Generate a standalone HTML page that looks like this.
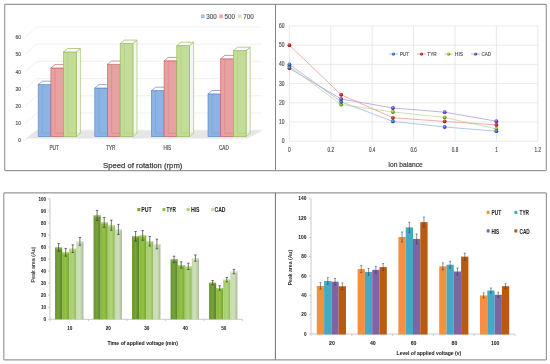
<!DOCTYPE html>
<html><head><meta charset="utf-8"><style>
html,body{margin:0;padding:0;background:#fff;width:550px;height:364px;overflow:hidden}
svg{display:block;font-family:"Liberation Sans", sans-serif;filter:blur(0.3px)}
</style></head><body>
<svg width="550" height="364" viewBox="0 0 550 364">
<defs>
<radialGradient id="gPUT" cx="0.4" cy="0.35" r="0.65"><stop offset="0" stop-color="#7fb0f0"/><stop offset="0.6" stop-color="#2a64b8"/><stop offset="1" stop-color="#1a3f80"/></radialGradient>
<radialGradient id="gTYR" cx="0.4" cy="0.35" r="0.65"><stop offset="0" stop-color="#f07070"/><stop offset="0.6" stop-color="#b81c1c"/><stop offset="1" stop-color="#801010"/></radialGradient>
<radialGradient id="gHIS" cx="0.4" cy="0.35" r="0.65"><stop offset="0" stop-color="#c8ec70"/><stop offset="0.6" stop-color="#74a424"/><stop offset="1" stop-color="#4a7010"/></radialGradient>
<radialGradient id="gCAD" cx="0.4" cy="0.35" r="0.65"><stop offset="0" stop-color="#b898f0"/><stop offset="0.6" stop-color="#603ca8"/><stop offset="1" stop-color="#402470"/></radialGradient>
<linearGradient id="hl0" x1="0" x2="0" y1="0" y2="1"><stop offset="0" stop-color="#a8d060" stop-opacity="0.9"/><stop offset="1" stop-color="#a8d060" stop-opacity="0"/></linearGradient>
<linearGradient id="hl1" x1="0" x2="0" y1="0" y2="1"><stop offset="0" stop-color="#c4e878" stop-opacity="0.9"/><stop offset="1" stop-color="#c4e878" stop-opacity="0"/></linearGradient>
<linearGradient id="hl2" x1="0" x2="0" y1="0" y2="1"><stop offset="0" stop-color="#d4ee9e" stop-opacity="0.9"/><stop offset="1" stop-color="#d4ee9e" stop-opacity="0"/></linearGradient>
<linearGradient id="hl3" x1="0" x2="0" y1="0" y2="1"><stop offset="0" stop-color="#e6f2d8" stop-opacity="0.9"/><stop offset="1" stop-color="#e6f2d8" stop-opacity="0"/></linearGradient>
<linearGradient id="gb1" x1="0" x2="1" y1="0" y2="0"><stop offset="0" stop-color="#6a9530"/><stop offset="0.5" stop-color="#76a33a"/><stop offset="1" stop-color="#5a8228"/></linearGradient>
<linearGradient id="gb2" x1="0" x2="1" y1="0" y2="0"><stop offset="0" stop-color="#85b53a"/><stop offset="0.5" stop-color="#94c443"/><stop offset="1" stop-color="#77a232"/></linearGradient>
<linearGradient id="gb3" x1="0" x2="1" y1="0" y2="0"><stop offset="0" stop-color="#a2c96a"/><stop offset="0.5" stop-color="#b0d57a"/><stop offset="1" stop-color="#92b85e"/></linearGradient>
<linearGradient id="gb4" x1="0" x2="1" y1="0" y2="0"><stop offset="0" stop-color="#c4d9ad"/><stop offset="0.5" stop-color="#cfe2bb"/><stop offset="1" stop-color="#a9b99a"/></linearGradient>
</defs>
<rect x="4.7" y="4.3" width="541.6" height="166.3" rx="0.8" fill="none" stroke="#979797" stroke-width="1.15"/>
<line x1="275.5" y1="4.2" x2="275.5" y2="170.5" stroke="#858585" stroke-width="1.0"/>
<rect x="3.8" y="192.8" width="542.6" height="167.0" rx="0.8" fill="none" stroke="#979797" stroke-width="1.15"/>
<line x1="275.4" y1="192.8" x2="275.4" y2="359.8" stroke="#707070" stroke-width="1.0"/>
<polyline points="25,140.50 37,130.20 262,130.20" fill="none" stroke="#ececec" stroke-width="0.8"/>
<polyline points="25,123.28 37,112.98 262,112.98" fill="none" stroke="#ececec" stroke-width="0.8"/>
<polyline points="25,106.06 37,95.76 262,95.76" fill="none" stroke="#ececec" stroke-width="0.8"/>
<polyline points="25,88.84 37,78.54 262,78.54" fill="none" stroke="#ececec" stroke-width="0.8"/>
<polyline points="25,71.62 37,61.32 262,61.32" fill="none" stroke="#ececec" stroke-width="0.8"/>
<polyline points="25,54.40 37,44.10 262,44.10" fill="none" stroke="#ececec" stroke-width="0.8"/>
<polyline points="25,37.18 37,26.88 262,26.88" fill="none" stroke="#ececec" stroke-width="0.8"/>
<polygon points="25.6,138.6 247.5,138.6 262.5,130.4 36.2,130.4" fill="#e6e6e6"/>
<text x="21.00" y="142.40" font-size="6.0" fill="#505050" font-weight="normal" text-anchor="end" textLength="2.7" lengthAdjust="spacingAndGlyphs" stroke="#505050" stroke-width="0.18" >0</text>
<text x="21.00" y="125.18" font-size="6.0" fill="#505050" font-weight="normal" text-anchor="end" textLength="5.4" lengthAdjust="spacingAndGlyphs" stroke="#505050" stroke-width="0.18" >10</text>
<text x="21.00" y="107.96" font-size="6.0" fill="#505050" font-weight="normal" text-anchor="end" textLength="5.4" lengthAdjust="spacingAndGlyphs" stroke="#505050" stroke-width="0.18" >20</text>
<text x="21.00" y="90.74" font-size="6.0" fill="#505050" font-weight="normal" text-anchor="end" textLength="5.4" lengthAdjust="spacingAndGlyphs" stroke="#505050" stroke-width="0.18" >30</text>
<text x="21.00" y="73.52" font-size="6.0" fill="#505050" font-weight="normal" text-anchor="end" textLength="5.4" lengthAdjust="spacingAndGlyphs" stroke="#505050" stroke-width="0.18" >40</text>
<text x="21.00" y="56.30" font-size="6.0" fill="#505050" font-weight="normal" text-anchor="end" textLength="5.4" lengthAdjust="spacingAndGlyphs" stroke="#505050" stroke-width="0.18" >50</text>
<text x="21.00" y="39.08" font-size="6.0" fill="#505050" font-weight="normal" text-anchor="end" textLength="5.4" lengthAdjust="spacingAndGlyphs" stroke="#505050" stroke-width="0.18" >60</text>
<polygon points="50.90,84.60 55.00,81.20 55.00,133.20 50.90,136.60" fill="#f4f6f2" fill-opacity="0.9" stroke="#5b8ccf" stroke-width="0.6"/>
<rect x="38.20" y="84.60" width="12.70" height="52.00" fill="#8db3e2" stroke="#5b8ccf" stroke-width="0.7"/>
<line x1="42.30" y1="81.20" x2="42.30" y2="133.20" stroke="#5b8ccf" stroke-width="0.5" stroke-opacity="0.6"/>
<line x1="42.30" y1="133.20" x2="55.00" y2="133.20" stroke="#5b8ccf" stroke-width="0.5" stroke-opacity="0.6"/>
<polygon points="38.20,84.60 50.90,84.60 55.00,81.20 42.30,81.20" fill="#ffffff" stroke="#5b8ccf" stroke-width="0.7"/>
<polygon points="63.60,68.00 67.70,64.60 67.70,133.20 63.60,136.60" fill="#f4f6f2" fill-opacity="0.9" stroke="#cc6666" stroke-width="0.6"/>
<rect x="50.90" y="68.00" width="12.70" height="68.60" fill="#e6a1a0" stroke="#cc6666" stroke-width="0.7"/>
<line x1="55.00" y1="64.60" x2="55.00" y2="133.20" stroke="#cc6666" stroke-width="0.5" stroke-opacity="0.6"/>
<line x1="55.00" y1="133.20" x2="67.70" y2="133.20" stroke="#cc6666" stroke-width="0.5" stroke-opacity="0.6"/>
<polygon points="50.90,68.00 63.60,68.00 67.70,64.60 55.00,64.60" fill="#ffffff" stroke="#cc6666" stroke-width="0.7"/>
<polygon points="76.30,51.90 80.40,48.50 80.40,133.20 76.30,136.60" fill="#f4f6f2" fill-opacity="0.9" stroke="#98bb5c" stroke-width="0.6"/>
<rect x="63.60" y="51.90" width="12.70" height="84.70" fill="#c3dd99" stroke="#98bb5c" stroke-width="0.7"/>
<line x1="67.70" y1="48.50" x2="67.70" y2="133.20" stroke="#98bb5c" stroke-width="0.5" stroke-opacity="0.6"/>
<line x1="67.70" y1="133.20" x2="80.40" y2="133.20" stroke="#98bb5c" stroke-width="0.5" stroke-opacity="0.6"/>
<polygon points="63.60,51.90 76.30,51.90 80.40,48.50 67.70,48.50" fill="#ffffff" stroke="#98bb5c" stroke-width="0.7"/>
<polygon points="107.50,88.00 111.60,84.60 111.60,133.20 107.50,136.60" fill="#f4f6f2" fill-opacity="0.9" stroke="#5b8ccf" stroke-width="0.6"/>
<rect x="94.80" y="88.00" width="12.70" height="48.60" fill="#8db3e2" stroke="#5b8ccf" stroke-width="0.7"/>
<line x1="98.90" y1="84.60" x2="98.90" y2="133.20" stroke="#5b8ccf" stroke-width="0.5" stroke-opacity="0.6"/>
<line x1="98.90" y1="133.20" x2="111.60" y2="133.20" stroke="#5b8ccf" stroke-width="0.5" stroke-opacity="0.6"/>
<polygon points="94.80,88.00 107.50,88.00 111.60,84.60 98.90,84.60" fill="#ffffff" stroke="#5b8ccf" stroke-width="0.7"/>
<polygon points="120.20,64.40 124.30,61.00 124.30,133.20 120.20,136.60" fill="#f4f6f2" fill-opacity="0.9" stroke="#cc6666" stroke-width="0.6"/>
<rect x="107.50" y="64.40" width="12.70" height="72.20" fill="#e6a1a0" stroke="#cc6666" stroke-width="0.7"/>
<line x1="111.60" y1="61.00" x2="111.60" y2="133.20" stroke="#cc6666" stroke-width="0.5" stroke-opacity="0.6"/>
<line x1="111.60" y1="133.20" x2="124.30" y2="133.20" stroke="#cc6666" stroke-width="0.5" stroke-opacity="0.6"/>
<polygon points="107.50,64.40 120.20,64.40 124.30,61.00 111.60,61.00" fill="#ffffff" stroke="#cc6666" stroke-width="0.7"/>
<polygon points="132.90,43.50 137.00,40.10 137.00,133.20 132.90,136.60" fill="#f4f6f2" fill-opacity="0.9" stroke="#98bb5c" stroke-width="0.6"/>
<rect x="120.20" y="43.50" width="12.70" height="93.10" fill="#c3dd99" stroke="#98bb5c" stroke-width="0.7"/>
<line x1="124.30" y1="40.10" x2="124.30" y2="133.20" stroke="#98bb5c" stroke-width="0.5" stroke-opacity="0.6"/>
<line x1="124.30" y1="133.20" x2="137.00" y2="133.20" stroke="#98bb5c" stroke-width="0.5" stroke-opacity="0.6"/>
<polygon points="120.20,43.50 132.90,43.50 137.00,40.10 124.30,40.10" fill="#ffffff" stroke="#98bb5c" stroke-width="0.7"/>
<polygon points="164.10,90.60 168.20,87.20 168.20,133.20 164.10,136.60" fill="#f4f6f2" fill-opacity="0.9" stroke="#5b8ccf" stroke-width="0.6"/>
<rect x="151.40" y="90.60" width="12.70" height="46.00" fill="#8db3e2" stroke="#5b8ccf" stroke-width="0.7"/>
<line x1="155.50" y1="87.20" x2="155.50" y2="133.20" stroke="#5b8ccf" stroke-width="0.5" stroke-opacity="0.6"/>
<line x1="155.50" y1="133.20" x2="168.20" y2="133.20" stroke="#5b8ccf" stroke-width="0.5" stroke-opacity="0.6"/>
<polygon points="151.40,90.60 164.10,90.60 168.20,87.20 155.50,87.20" fill="#ffffff" stroke="#5b8ccf" stroke-width="0.7"/>
<polygon points="176.80,60.80 180.90,57.40 180.90,133.20 176.80,136.60" fill="#f4f6f2" fill-opacity="0.9" stroke="#cc6666" stroke-width="0.6"/>
<rect x="164.10" y="60.80" width="12.70" height="75.80" fill="#e6a1a0" stroke="#cc6666" stroke-width="0.7"/>
<line x1="168.20" y1="57.40" x2="168.20" y2="133.20" stroke="#cc6666" stroke-width="0.5" stroke-opacity="0.6"/>
<line x1="168.20" y1="133.20" x2="180.90" y2="133.20" stroke="#cc6666" stroke-width="0.5" stroke-opacity="0.6"/>
<polygon points="164.10,60.80 176.80,60.80 180.90,57.40 168.20,57.40" fill="#ffffff" stroke="#cc6666" stroke-width="0.7"/>
<polygon points="189.50,45.60 193.60,42.20 193.60,133.20 189.50,136.60" fill="#f4f6f2" fill-opacity="0.9" stroke="#98bb5c" stroke-width="0.6"/>
<rect x="176.80" y="45.60" width="12.70" height="91.00" fill="#c3dd99" stroke="#98bb5c" stroke-width="0.7"/>
<line x1="180.90" y1="42.20" x2="180.90" y2="133.20" stroke="#98bb5c" stroke-width="0.5" stroke-opacity="0.6"/>
<line x1="180.90" y1="133.20" x2="193.60" y2="133.20" stroke="#98bb5c" stroke-width="0.5" stroke-opacity="0.6"/>
<polygon points="176.80,45.60 189.50,45.60 193.60,42.20 180.90,42.20" fill="#ffffff" stroke="#98bb5c" stroke-width="0.7"/>
<polygon points="220.70,93.90 224.80,90.50 224.80,133.20 220.70,136.60" fill="#f4f6f2" fill-opacity="0.9" stroke="#5b8ccf" stroke-width="0.6"/>
<rect x="208.00" y="93.90" width="12.70" height="42.70" fill="#8db3e2" stroke="#5b8ccf" stroke-width="0.7"/>
<line x1="212.10" y1="90.50" x2="212.10" y2="133.20" stroke="#5b8ccf" stroke-width="0.5" stroke-opacity="0.6"/>
<line x1="212.10" y1="133.20" x2="224.80" y2="133.20" stroke="#5b8ccf" stroke-width="0.5" stroke-opacity="0.6"/>
<polygon points="208.00,93.90 220.70,93.90 224.80,90.50 212.10,90.50" fill="#ffffff" stroke="#5b8ccf" stroke-width="0.7"/>
<polygon points="233.40,58.80 237.50,55.40 237.50,133.20 233.40,136.60" fill="#f4f6f2" fill-opacity="0.9" stroke="#cc6666" stroke-width="0.6"/>
<rect x="220.70" y="58.80" width="12.70" height="77.80" fill="#e6a1a0" stroke="#cc6666" stroke-width="0.7"/>
<line x1="224.80" y1="55.40" x2="224.80" y2="133.20" stroke="#cc6666" stroke-width="0.5" stroke-opacity="0.6"/>
<line x1="224.80" y1="133.20" x2="237.50" y2="133.20" stroke="#cc6666" stroke-width="0.5" stroke-opacity="0.6"/>
<polygon points="220.70,58.80 233.40,58.80 237.50,55.40 224.80,55.40" fill="#ffffff" stroke="#cc6666" stroke-width="0.7"/>
<polygon points="246.10,50.60 250.20,47.20 250.20,133.20 246.10,136.60" fill="#f4f6f2" fill-opacity="0.9" stroke="#98bb5c" stroke-width="0.6"/>
<rect x="233.40" y="50.60" width="12.70" height="86.00" fill="#c3dd99" stroke="#98bb5c" stroke-width="0.7"/>
<line x1="237.50" y1="47.20" x2="237.50" y2="133.20" stroke="#98bb5c" stroke-width="0.5" stroke-opacity="0.6"/>
<line x1="237.50" y1="133.20" x2="250.20" y2="133.20" stroke="#98bb5c" stroke-width="0.5" stroke-opacity="0.6"/>
<polygon points="233.40,50.60 246.10,50.60 250.20,47.20 237.50,47.20" fill="#ffffff" stroke="#98bb5c" stroke-width="0.7"/>
<text x="49.40" y="150.30" font-size="6.3" fill="#505050" font-weight="normal" text-anchor="start" textLength="9.4" lengthAdjust="spacingAndGlyphs" stroke="#505050" stroke-width="0.18" >PUT</text>
<text x="106.10" y="150.30" font-size="6.3" fill="#505050" font-weight="normal" text-anchor="start" textLength="9.2" lengthAdjust="spacingAndGlyphs" stroke="#505050" stroke-width="0.18" >TYR</text>
<text x="163.50" y="150.30" font-size="6.3" fill="#505050" font-weight="normal" text-anchor="start" textLength="7.6" lengthAdjust="spacingAndGlyphs" stroke="#505050" stroke-width="0.18" >HIS</text>
<text x="218.95" y="150.30" font-size="6.3" fill="#505050" font-weight="normal" text-anchor="start" textLength="9.9" lengthAdjust="spacingAndGlyphs" stroke="#505050" stroke-width="0.18" >CAD</text>
<text x="103.10" y="167.80" font-size="7.9" fill="#404040" font-weight="normal" text-anchor="start" textLength="79.3" lengthAdjust="spacingAndGlyphs" stroke="#404040" stroke-width="0.25" >Speed of rotation (rpm)</text>
<rect x="201.00" y="14.4" width="3.6" height="3.8" fill="#9cc0ec"/>
<text x="206.20" y="18.60" font-size="6.4" fill="#595959" font-weight="normal" text-anchor="start" textLength="10.5" lengthAdjust="spacingAndGlyphs" stroke="#595959" stroke-width="0.18" >300</text>
<rect x="219.30" y="14.4" width="3.6" height="3.8" fill="#f0a4a4"/>
<text x="224.50" y="18.60" font-size="6.4" fill="#595959" font-weight="normal" text-anchor="start" textLength="10.5" lengthAdjust="spacingAndGlyphs" stroke="#595959" stroke-width="0.18" >500</text>
<rect x="238.00" y="14.4" width="3.6" height="3.8" fill="#d2e9ae"/>
<text x="243.20" y="18.60" font-size="6.4" fill="#595959" font-weight="normal" text-anchor="start" textLength="10.5" lengthAdjust="spacingAndGlyphs" stroke="#595959" stroke-width="0.18" >700</text>
<line x1="289.40" y1="141.20" x2="537.80" y2="141.20" stroke="#e3e3e3" stroke-width="0.8"/>
<text x="284.50" y="143.10" font-size="6.3" fill="#505050" font-weight="normal" text-anchor="end" textLength="2.8" lengthAdjust="spacingAndGlyphs" stroke="#505050" stroke-width="0.18" >0</text>
<line x1="289.40" y1="122.00" x2="537.80" y2="122.00" stroke="#e3e3e3" stroke-width="0.8"/>
<text x="284.50" y="123.90" font-size="6.3" fill="#505050" font-weight="normal" text-anchor="end" textLength="5.5" lengthAdjust="spacingAndGlyphs" stroke="#505050" stroke-width="0.18" >10</text>
<line x1="289.40" y1="102.80" x2="537.80" y2="102.80" stroke="#e3e3e3" stroke-width="0.8"/>
<text x="284.50" y="104.70" font-size="6.3" fill="#505050" font-weight="normal" text-anchor="end" textLength="5.5" lengthAdjust="spacingAndGlyphs" stroke="#505050" stroke-width="0.18" >20</text>
<line x1="289.40" y1="83.60" x2="537.80" y2="83.60" stroke="#e3e3e3" stroke-width="0.8"/>
<text x="284.50" y="85.50" font-size="6.3" fill="#505050" font-weight="normal" text-anchor="end" textLength="5.5" lengthAdjust="spacingAndGlyphs" stroke="#505050" stroke-width="0.18" >30</text>
<line x1="289.40" y1="64.40" x2="537.80" y2="64.40" stroke="#e3e3e3" stroke-width="0.8"/>
<text x="284.50" y="66.30" font-size="6.3" fill="#505050" font-weight="normal" text-anchor="end" textLength="5.5" lengthAdjust="spacingAndGlyphs" stroke="#505050" stroke-width="0.18" >40</text>
<line x1="289.40" y1="45.20" x2="537.80" y2="45.20" stroke="#e3e3e3" stroke-width="0.8"/>
<text x="284.50" y="47.10" font-size="6.3" fill="#505050" font-weight="normal" text-anchor="end" textLength="5.5" lengthAdjust="spacingAndGlyphs" stroke="#505050" stroke-width="0.18" >50</text>
<line x1="289.40" y1="26.00" x2="537.80" y2="26.00" stroke="#e3e3e3" stroke-width="0.8"/>
<text x="284.50" y="27.90" font-size="6.3" fill="#505050" font-weight="normal" text-anchor="end" textLength="5.5" lengthAdjust="spacingAndGlyphs" stroke="#505050" stroke-width="0.18" >60</text>
<line x1="289.40" y1="26.00" x2="289.40" y2="141.20" stroke="#e3e3e3" stroke-width="0.8"/>
<text x="288.05" y="152.00" font-size="6.4" fill="#505050" font-weight="normal" text-anchor="start" textLength="2.7" lengthAdjust="spacingAndGlyphs" stroke="#505050" stroke-width="0.18" >0</text>
<line x1="330.80" y1="26.00" x2="330.80" y2="141.20" stroke="#e3e3e3" stroke-width="0.8"/>
<text x="327.60" y="152.00" font-size="6.4" fill="#505050" font-weight="normal" text-anchor="start" textLength="6.4" lengthAdjust="spacingAndGlyphs" stroke="#505050" stroke-width="0.18" >0.2</text>
<line x1="372.20" y1="26.00" x2="372.20" y2="141.20" stroke="#e3e3e3" stroke-width="0.8"/>
<text x="369.00" y="152.00" font-size="6.4" fill="#505050" font-weight="normal" text-anchor="start" textLength="6.4" lengthAdjust="spacingAndGlyphs" stroke="#505050" stroke-width="0.18" >0.4</text>
<line x1="413.60" y1="26.00" x2="413.60" y2="141.20" stroke="#e3e3e3" stroke-width="0.8"/>
<text x="410.40" y="152.00" font-size="6.4" fill="#505050" font-weight="normal" text-anchor="start" textLength="6.4" lengthAdjust="spacingAndGlyphs" stroke="#505050" stroke-width="0.18" >0.6</text>
<line x1="455.00" y1="26.00" x2="455.00" y2="141.20" stroke="#e3e3e3" stroke-width="0.8"/>
<text x="451.80" y="152.00" font-size="6.4" fill="#505050" font-weight="normal" text-anchor="start" textLength="6.4" lengthAdjust="spacingAndGlyphs" stroke="#505050" stroke-width="0.18" >0.8</text>
<line x1="496.40" y1="26.00" x2="496.40" y2="141.20" stroke="#e3e3e3" stroke-width="0.8"/>
<text x="495.15" y="152.00" font-size="6.4" fill="#505050" font-weight="normal" text-anchor="start" textLength="2.5" lengthAdjust="spacingAndGlyphs" stroke="#505050" stroke-width="0.18" >1</text>
<line x1="537.80" y1="26.00" x2="537.80" y2="141.20" stroke="#e3e3e3" stroke-width="0.8"/>
<text x="534.60" y="152.00" font-size="6.4" fill="#505050" font-weight="normal" text-anchor="start" textLength="6.4" lengthAdjust="spacingAndGlyphs" stroke="#505050" stroke-width="0.18" >1.2</text>
<path d="M289.40,66.32 L341.15,104.53 L392.90,112.02 L444.65,117.39 L496.40,128.91" fill="none" stroke="#c8dc9c" stroke-width="0.85"/>
<path d="M289.40,64.40 L341.15,101.84 L392.90,121.42 L444.65,126.99 L496.40,131.22" fill="none" stroke="#a0bde6" stroke-width="0.85"/>
<path d="M289.40,68.24 L341.15,98.96 L392.90,107.98 L444.65,112.21 L496.40,121.23" fill="none" stroke="#b4a6d4" stroke-width="0.85"/>
<path d="M289.40,45.20 L341.15,94.74 L392.90,117.78 L444.65,121.42 L496.40,124.88" fill="none" stroke="#eaa0a0" stroke-width="0.85"/>
<circle cx="289.40" cy="66.32" r="1.9" fill="url(#gHIS)"/>
<circle cx="341.15" cy="104.53" r="1.9" fill="url(#gHIS)"/>
<circle cx="392.90" cy="112.02" r="1.9" fill="url(#gHIS)"/>
<circle cx="444.65" cy="117.39" r="1.9" fill="url(#gHIS)"/>
<circle cx="496.40" cy="128.91" r="1.9" fill="url(#gHIS)"/>
<circle cx="289.40" cy="64.40" r="1.9" fill="url(#gPUT)"/>
<circle cx="341.15" cy="101.84" r="1.9" fill="url(#gPUT)"/>
<circle cx="392.90" cy="121.42" r="1.9" fill="url(#gPUT)"/>
<circle cx="444.65" cy="126.99" r="1.9" fill="url(#gPUT)"/>
<circle cx="496.40" cy="131.22" r="1.9" fill="url(#gPUT)"/>
<circle cx="289.40" cy="68.24" r="1.9" fill="url(#gCAD)"/>
<circle cx="341.15" cy="98.96" r="1.9" fill="url(#gCAD)"/>
<circle cx="392.90" cy="107.98" r="1.9" fill="url(#gCAD)"/>
<circle cx="444.65" cy="112.21" r="1.9" fill="url(#gCAD)"/>
<circle cx="496.40" cy="121.23" r="1.9" fill="url(#gCAD)"/>
<circle cx="289.40" cy="45.20" r="1.9" fill="url(#gTYR)"/>
<circle cx="341.15" cy="94.74" r="1.9" fill="url(#gTYR)"/>
<circle cx="392.90" cy="117.78" r="1.9" fill="url(#gTYR)"/>
<circle cx="444.65" cy="121.42" r="1.9" fill="url(#gTYR)"/>
<circle cx="496.40" cy="124.88" r="1.9" fill="url(#gTYR)"/>
<line x1="388.90" y1="54" x2="397.90" y2="54" stroke="#a0bde6" stroke-width="0.9"/>
<circle cx="393.40" cy="54" r="1.6" fill="url(#gPUT)"/>
<text x="399.70" y="56.30" font-size="6.2" fill="#595959" font-weight="normal" text-anchor="start" textLength="9.5" lengthAdjust="spacingAndGlyphs" stroke="#595959" stroke-width="0.18" >PUT</text>
<line x1="417.00" y1="54" x2="426.00" y2="54" stroke="#eaa0a0" stroke-width="0.9"/>
<circle cx="421.50" cy="54" r="1.6" fill="url(#gTYR)"/>
<text x="427.30" y="56.30" font-size="6.2" fill="#595959" font-weight="normal" text-anchor="start" textLength="9.5" lengthAdjust="spacingAndGlyphs" stroke="#595959" stroke-width="0.18" >TYR</text>
<line x1="444.20" y1="54" x2="453.20" y2="54" stroke="#c8dc9c" stroke-width="0.9"/>
<circle cx="448.70" cy="54" r="1.6" fill="url(#gHIS)"/>
<text x="454.80" y="56.30" font-size="6.2" fill="#595959" font-weight="normal" text-anchor="start" textLength="8.4" lengthAdjust="spacingAndGlyphs" stroke="#595959" stroke-width="0.18" >HIS</text>
<line x1="471.10" y1="54" x2="480.10" y2="54" stroke="#b4a6d4" stroke-width="0.9"/>
<circle cx="475.60" cy="54" r="1.6" fill="url(#gCAD)"/>
<text x="481.50" y="56.30" font-size="6.2" fill="#595959" font-weight="normal" text-anchor="start" textLength="9.5" lengthAdjust="spacingAndGlyphs" stroke="#595959" stroke-width="0.18" >CAD</text>
<text x="388.20" y="167.40" font-size="7.9" fill="#404040" font-weight="normal" text-anchor="start" textLength="34.6" lengthAdjust="spacingAndGlyphs" stroke="#404040" stroke-width="0.22" >Ion balance</text>
<line x1="50.0" y1="198.80" x2="50.0" y2="319.30" stroke="#bdbdbd" stroke-width="0.8"/>
<line x1="50.0" y1="319.30" x2="242.50" y2="319.30" stroke="#bdbdbd" stroke-width="0.8"/>
<line x1="48.0" y1="319.30" x2="50.0" y2="319.30" stroke="#bdbdbd" stroke-width="0.7"/>
<text x="46.00" y="321.20" font-size="5.7" fill="#262626" font-weight="bold" text-anchor="end" textLength="2.6" lengthAdjust="spacingAndGlyphs" stroke="#262626" stroke-width="0.06" >0</text>
<line x1="48.0" y1="307.25" x2="50.0" y2="307.25" stroke="#bdbdbd" stroke-width="0.7"/>
<text x="46.00" y="309.15" font-size="5.7" fill="#262626" font-weight="bold" text-anchor="end" textLength="5.0" lengthAdjust="spacingAndGlyphs" stroke="#262626" stroke-width="0.06" >10</text>
<line x1="48.0" y1="295.20" x2="50.0" y2="295.20" stroke="#bdbdbd" stroke-width="0.7"/>
<text x="46.00" y="297.10" font-size="5.7" fill="#262626" font-weight="bold" text-anchor="end" textLength="5.0" lengthAdjust="spacingAndGlyphs" stroke="#262626" stroke-width="0.06" >20</text>
<line x1="48.0" y1="283.15" x2="50.0" y2="283.15" stroke="#bdbdbd" stroke-width="0.7"/>
<text x="46.00" y="285.05" font-size="5.7" fill="#262626" font-weight="bold" text-anchor="end" textLength="5.0" lengthAdjust="spacingAndGlyphs" stroke="#262626" stroke-width="0.06" >30</text>
<line x1="48.0" y1="271.10" x2="50.0" y2="271.10" stroke="#bdbdbd" stroke-width="0.7"/>
<text x="46.00" y="273.00" font-size="5.7" fill="#262626" font-weight="bold" text-anchor="end" textLength="5.0" lengthAdjust="spacingAndGlyphs" stroke="#262626" stroke-width="0.06" >40</text>
<line x1="48.0" y1="259.05" x2="50.0" y2="259.05" stroke="#bdbdbd" stroke-width="0.7"/>
<text x="46.00" y="260.95" font-size="5.7" fill="#262626" font-weight="bold" text-anchor="end" textLength="5.0" lengthAdjust="spacingAndGlyphs" stroke="#262626" stroke-width="0.06" >50</text>
<line x1="48.0" y1="247.00" x2="50.0" y2="247.00" stroke="#bdbdbd" stroke-width="0.7"/>
<text x="46.00" y="248.90" font-size="5.7" fill="#262626" font-weight="bold" text-anchor="end" textLength="5.0" lengthAdjust="spacingAndGlyphs" stroke="#262626" stroke-width="0.06" >60</text>
<line x1="48.0" y1="234.95" x2="50.0" y2="234.95" stroke="#bdbdbd" stroke-width="0.7"/>
<text x="46.00" y="236.85" font-size="5.7" fill="#262626" font-weight="bold" text-anchor="end" textLength="5.0" lengthAdjust="spacingAndGlyphs" stroke="#262626" stroke-width="0.06" >70</text>
<line x1="48.0" y1="222.90" x2="50.0" y2="222.90" stroke="#bdbdbd" stroke-width="0.7"/>
<text x="46.00" y="224.80" font-size="5.7" fill="#262626" font-weight="bold" text-anchor="end" textLength="5.0" lengthAdjust="spacingAndGlyphs" stroke="#262626" stroke-width="0.06" >80</text>
<line x1="48.0" y1="210.85" x2="50.0" y2="210.85" stroke="#bdbdbd" stroke-width="0.7"/>
<text x="46.00" y="212.75" font-size="5.7" fill="#262626" font-weight="bold" text-anchor="end" textLength="5.0" lengthAdjust="spacingAndGlyphs" stroke="#262626" stroke-width="0.06" >90</text>
<line x1="48.0" y1="198.80" x2="50.0" y2="198.80" stroke="#bdbdbd" stroke-width="0.7"/>
<text x="46.00" y="200.70" font-size="5.7" fill="#262626" font-weight="bold" text-anchor="end" textLength="7.4" lengthAdjust="spacingAndGlyphs" stroke="#262626" stroke-width="0.06" >100</text>
<line x1="50.00" y1="319.30" x2="50.00" y2="321.30" stroke="#bdbdbd" stroke-width="0.7"/>
<line x1="88.50" y1="319.30" x2="88.50" y2="321.30" stroke="#bdbdbd" stroke-width="0.7"/>
<line x1="127.00" y1="319.30" x2="127.00" y2="321.30" stroke="#bdbdbd" stroke-width="0.7"/>
<line x1="165.50" y1="319.30" x2="165.50" y2="321.30" stroke="#bdbdbd" stroke-width="0.7"/>
<line x1="204.00" y1="319.30" x2="204.00" y2="321.30" stroke="#bdbdbd" stroke-width="0.7"/>
<line x1="242.50" y1="319.30" x2="242.50" y2="321.30" stroke="#bdbdbd" stroke-width="0.7"/>
<rect x="55.05" y="247.48" width="7.10" height="71.82" fill="url(#gb1)"/>
<rect x="55.65" y="247.48" width="5.90" height="2.4" fill="url(#hl0)"/>
<rect x="62.15" y="252.30" width="7.10" height="67.00" fill="url(#gb2)"/>
<rect x="62.75" y="252.30" width="5.90" height="2.4" fill="url(#hl1)"/>
<rect x="69.25" y="248.69" width="7.10" height="70.61" fill="url(#gb3)"/>
<rect x="69.85" y="248.69" width="5.90" height="2.4" fill="url(#hl2)"/>
<rect x="76.35" y="241.46" width="7.10" height="77.84" fill="url(#gb4)"/>
<rect x="76.95" y="241.46" width="5.90" height="2.4" fill="url(#hl3)"/>
<path d="M58.60,243.63 V251.34 M57.40,243.63 H59.80 M57.40,251.34 H59.80" stroke="#383838" stroke-width="0.7" fill="none"/>
<path d="M65.70,248.45 V256.16 M64.50,248.45 H66.90 M64.50,256.16 H66.90" stroke="#383838" stroke-width="0.7" fill="none"/>
<path d="M72.80,244.83 V252.54 M71.60,244.83 H74.00 M71.60,252.54 H74.00" stroke="#383838" stroke-width="0.7" fill="none"/>
<path d="M79.90,237.60 V245.31 M78.70,237.60 H81.10 M78.70,245.31 H81.10" stroke="#383838" stroke-width="0.7" fill="none"/>
<text x="67.15" y="329.70" font-size="5.6" fill="#262626" font-weight="bold" text-anchor="start" textLength="5.2" lengthAdjust="spacingAndGlyphs" stroke="#262626" stroke-width="0.06" >10</text>
<rect x="93.55" y="215.43" width="7.10" height="103.87" fill="url(#gb1)"/>
<rect x="94.15" y="215.43" width="5.90" height="2.4" fill="url(#hl0)"/>
<rect x="100.65" y="222.42" width="7.10" height="96.88" fill="url(#gb2)"/>
<rect x="101.25" y="222.42" width="5.90" height="2.4" fill="url(#hl1)"/>
<rect x="107.75" y="225.19" width="7.10" height="94.11" fill="url(#gb3)"/>
<rect x="108.35" y="225.19" width="5.90" height="2.4" fill="url(#hl2)"/>
<rect x="114.85" y="229.41" width="7.10" height="89.89" fill="url(#gb4)"/>
<rect x="115.45" y="229.41" width="5.90" height="2.4" fill="url(#hl3)"/>
<path d="M97.10,210.37 V220.49 M95.90,210.37 H98.30 M95.90,220.49 H98.30" stroke="#383838" stroke-width="0.7" fill="none"/>
<path d="M104.20,217.36 V227.48 M103.00,217.36 H105.40 M103.00,227.48 H105.40" stroke="#383838" stroke-width="0.7" fill="none"/>
<path d="M111.30,220.13 V230.25 M110.10,220.13 H112.50 M110.10,230.25 H112.50" stroke="#383838" stroke-width="0.7" fill="none"/>
<path d="M118.40,224.35 V234.47 M117.20,224.35 H119.60 M117.20,234.47 H119.60" stroke="#383838" stroke-width="0.7" fill="none"/>
<text x="105.65" y="329.70" font-size="5.6" fill="#262626" font-weight="bold" text-anchor="start" textLength="5.2" lengthAdjust="spacingAndGlyphs" stroke="#262626" stroke-width="0.06" >20</text>
<rect x="132.05" y="236.28" width="7.10" height="83.02" fill="url(#gb1)"/>
<rect x="132.65" y="236.28" width="5.90" height="2.4" fill="url(#hl0)"/>
<rect x="139.15" y="235.43" width="7.10" height="83.87" fill="url(#gb2)"/>
<rect x="139.75" y="235.43" width="5.90" height="2.4" fill="url(#hl1)"/>
<rect x="146.25" y="241.22" width="7.10" height="78.08" fill="url(#gb3)"/>
<rect x="146.85" y="241.22" width="5.90" height="2.4" fill="url(#hl2)"/>
<rect x="153.35" y="243.99" width="7.10" height="75.31" fill="url(#gb4)"/>
<rect x="153.95" y="243.99" width="5.90" height="2.4" fill="url(#hl3)"/>
<path d="M135.60,231.46 V241.10 M134.40,231.46 H136.80 M134.40,241.10 H136.80" stroke="#383838" stroke-width="0.7" fill="none"/>
<path d="M142.70,230.61 V240.25 M141.50,230.61 H143.90 M141.50,240.25 H143.90" stroke="#383838" stroke-width="0.7" fill="none"/>
<path d="M149.80,236.40 V246.04 M148.60,236.40 H151.00 M148.60,246.04 H151.00" stroke="#383838" stroke-width="0.7" fill="none"/>
<path d="M156.90,239.17 V248.81 M155.70,239.17 H158.10 M155.70,248.81 H158.10" stroke="#383838" stroke-width="0.7" fill="none"/>
<text x="144.15" y="329.70" font-size="5.6" fill="#262626" font-weight="bold" text-anchor="start" textLength="5.2" lengthAdjust="spacingAndGlyphs" stroke="#262626" stroke-width="0.06" >30</text>
<rect x="170.55" y="259.29" width="7.10" height="60.01" fill="url(#gb1)"/>
<rect x="171.15" y="259.29" width="5.90" height="2.4" fill="url(#hl0)"/>
<rect x="177.65" y="264.95" width="7.10" height="54.35" fill="url(#gb2)"/>
<rect x="178.25" y="264.95" width="5.90" height="2.4" fill="url(#hl1)"/>
<rect x="184.75" y="266.40" width="7.10" height="52.90" fill="url(#gb3)"/>
<rect x="185.35" y="266.40" width="5.90" height="2.4" fill="url(#hl2)"/>
<rect x="191.85" y="258.09" width="7.10" height="61.21" fill="url(#gb4)"/>
<rect x="192.45" y="258.09" width="5.90" height="2.4" fill="url(#hl3)"/>
<path d="M174.10,256.16 V262.42 M172.90,256.16 H175.30 M172.90,262.42 H175.30" stroke="#383838" stroke-width="0.7" fill="none"/>
<path d="M181.20,261.82 V268.09 M180.00,261.82 H182.40 M180.00,268.09 H182.40" stroke="#383838" stroke-width="0.7" fill="none"/>
<path d="M188.30,263.27 V269.53 M187.10,263.27 H189.50 M187.10,269.53 H189.50" stroke="#383838" stroke-width="0.7" fill="none"/>
<path d="M195.40,254.95 V261.22 M194.20,254.95 H196.60 M194.20,261.22 H196.60" stroke="#383838" stroke-width="0.7" fill="none"/>
<text x="182.65" y="329.70" font-size="5.6" fill="#262626" font-weight="bold" text-anchor="start" textLength="5.2" lengthAdjust="spacingAndGlyphs" stroke="#262626" stroke-width="0.06" >40</text>
<rect x="209.05" y="282.67" width="7.10" height="36.63" fill="url(#gb1)"/>
<rect x="209.65" y="282.67" width="5.90" height="2.4" fill="url(#hl0)"/>
<rect x="216.15" y="287.97" width="7.10" height="31.33" fill="url(#gb2)"/>
<rect x="216.75" y="287.97" width="5.90" height="2.4" fill="url(#hl1)"/>
<rect x="223.25" y="279.66" width="7.10" height="39.64" fill="url(#gb3)"/>
<rect x="223.85" y="279.66" width="5.90" height="2.4" fill="url(#hl2)"/>
<rect x="230.35" y="271.58" width="7.10" height="47.72" fill="url(#gb4)"/>
<rect x="230.95" y="271.58" width="5.90" height="2.4" fill="url(#hl3)"/>
<path d="M212.60,280.50 V284.84 M211.40,280.50 H213.80 M211.40,284.84 H213.80" stroke="#383838" stroke-width="0.7" fill="none"/>
<path d="M219.70,285.80 V290.14 M218.50,285.80 H220.90 M218.50,290.14 H220.90" stroke="#383838" stroke-width="0.7" fill="none"/>
<path d="M226.80,277.49 V281.82 M225.60,277.49 H228.00 M225.60,281.82 H228.00" stroke="#383838" stroke-width="0.7" fill="none"/>
<path d="M233.90,269.41 V273.75 M232.70,269.41 H235.10 M232.70,273.75 H235.10" stroke="#383838" stroke-width="0.7" fill="none"/>
<text x="221.15" y="329.70" font-size="5.6" fill="#262626" font-weight="bold" text-anchor="start" textLength="5.2" lengthAdjust="spacingAndGlyphs" stroke="#262626" stroke-width="0.06" >50</text>
<text x="107.40" y="345.30" font-size="6.2" fill="#262626" font-weight="bold" text-anchor="start" textLength="70.5" lengthAdjust="spacingAndGlyphs" stroke="#262626" stroke-width="0.06" >Time of applied voltage (min)</text>
<rect x="137.30" y="208" width="3.0" height="3.2" fill="#76a33a"/>
<text x="141.30" y="212.00" font-size="6.3" fill="#262626" font-weight="bold" text-anchor="start" textLength="10.5" lengthAdjust="spacingAndGlyphs" stroke="#262626" stroke-width="0.06" >PUT</text>
<rect x="162.40" y="208" width="3.0" height="3.2" fill="#92c340"/>
<text x="166.40" y="212.00" font-size="6.3" fill="#262626" font-weight="bold" text-anchor="start" textLength="9.4" lengthAdjust="spacingAndGlyphs" stroke="#262626" stroke-width="0.06" >TYR</text>
<rect x="186.70" y="208" width="3.0" height="3.2" fill="#aed373"/>
<text x="190.90" y="212.00" font-size="6.3" fill="#262626" font-weight="bold" text-anchor="start" textLength="8.6" lengthAdjust="spacingAndGlyphs" stroke="#262626" stroke-width="0.06" >HIS</text>
<rect x="210.90" y="208" width="3.0" height="3.2" fill="#c9ddb2"/>
<text x="214.50" y="212.00" font-size="6.3" fill="#262626" font-weight="bold" text-anchor="start" textLength="11" lengthAdjust="spacingAndGlyphs" stroke="#262626" stroke-width="0.06" >CAD</text>
<text transform="translate(34.6,264.6) rotate(-90)" x="0" y="0" font-size="5.6" stroke="#404040" stroke-width="0.15" fill="#404040" text-anchor="middle" textLength="36" lengthAdjust="spacingAndGlyphs">Peak area (Au)</text>
<line x1="311.0" y1="198.76" x2="311.0" y2="334.00" stroke="#bdbdbd" stroke-width="0.8"/>
<line x1="311.0" y1="334.00" x2="515.00" y2="334.00" stroke="#bdbdbd" stroke-width="0.8"/>
<line x1="309.0" y1="334.00" x2="311.0" y2="334.00" stroke="#bdbdbd" stroke-width="0.7"/>
<text x="306.50" y="335.50" font-size="5.9" fill="#262626" font-weight="bold" text-anchor="end" textLength="2.6" lengthAdjust="spacingAndGlyphs" stroke="#262626" stroke-width="0.06" >0</text>
<line x1="309.0" y1="314.68" x2="311.0" y2="314.68" stroke="#bdbdbd" stroke-width="0.7"/>
<text x="306.50" y="316.18" font-size="5.9" fill="#262626" font-weight="bold" text-anchor="end" textLength="5.2" lengthAdjust="spacingAndGlyphs" stroke="#262626" stroke-width="0.06" >20</text>
<line x1="309.0" y1="295.36" x2="311.0" y2="295.36" stroke="#bdbdbd" stroke-width="0.7"/>
<text x="306.50" y="296.86" font-size="5.9" fill="#262626" font-weight="bold" text-anchor="end" textLength="5.2" lengthAdjust="spacingAndGlyphs" stroke="#262626" stroke-width="0.06" >40</text>
<line x1="309.0" y1="276.04" x2="311.0" y2="276.04" stroke="#bdbdbd" stroke-width="0.7"/>
<text x="306.50" y="277.54" font-size="5.9" fill="#262626" font-weight="bold" text-anchor="end" textLength="5.2" lengthAdjust="spacingAndGlyphs" stroke="#262626" stroke-width="0.06" >60</text>
<line x1="309.0" y1="256.72" x2="311.0" y2="256.72" stroke="#bdbdbd" stroke-width="0.7"/>
<text x="306.50" y="258.22" font-size="5.9" fill="#262626" font-weight="bold" text-anchor="end" textLength="5.2" lengthAdjust="spacingAndGlyphs" stroke="#262626" stroke-width="0.06" >80</text>
<line x1="309.0" y1="237.40" x2="311.0" y2="237.40" stroke="#bdbdbd" stroke-width="0.7"/>
<text x="306.50" y="238.90" font-size="5.9" fill="#262626" font-weight="bold" text-anchor="end" textLength="8.2" lengthAdjust="spacingAndGlyphs" stroke="#262626" stroke-width="0.06" >100</text>
<line x1="309.0" y1="218.08" x2="311.0" y2="218.08" stroke="#bdbdbd" stroke-width="0.7"/>
<text x="306.50" y="219.58" font-size="5.9" fill="#262626" font-weight="bold" text-anchor="end" textLength="8.2" lengthAdjust="spacingAndGlyphs" stroke="#262626" stroke-width="0.06" >120</text>
<line x1="309.0" y1="198.76" x2="311.0" y2="198.76" stroke="#bdbdbd" stroke-width="0.7"/>
<text x="306.50" y="200.26" font-size="5.9" fill="#262626" font-weight="bold" text-anchor="end" textLength="8.2" lengthAdjust="spacingAndGlyphs" stroke="#262626" stroke-width="0.06" >140</text>
<line x1="311.00" y1="334.00" x2="311.00" y2="336.00" stroke="#bdbdbd" stroke-width="0.7"/>
<line x1="351.80" y1="334.00" x2="351.80" y2="336.00" stroke="#bdbdbd" stroke-width="0.7"/>
<line x1="392.60" y1="334.00" x2="392.60" y2="336.00" stroke="#bdbdbd" stroke-width="0.7"/>
<line x1="433.40" y1="334.00" x2="433.40" y2="336.00" stroke="#bdbdbd" stroke-width="0.7"/>
<line x1="474.20" y1="334.00" x2="474.20" y2="336.00" stroke="#bdbdbd" stroke-width="0.7"/>
<line x1="515.00" y1="334.00" x2="515.00" y2="336.00" stroke="#bdbdbd" stroke-width="0.7"/>
<rect x="316.80" y="285.89" width="7.30" height="48.61" fill="#f4903e"/>
<rect x="324.10" y="280.97" width="7.30" height="53.53" fill="#45a9c5"/>
<rect x="331.40" y="281.74" width="7.30" height="52.76" fill="#7f63a5"/>
<rect x="338.70" y="286.28" width="7.30" height="48.22" fill="#b85a12"/>
<path d="M320.45,282.61 V289.18 M319.45,282.61 H321.45 M319.45,289.18 H321.45" stroke="#3a3a3a" stroke-width="0.55" fill="none"/>
<path d="M327.75,277.68 V284.25 M326.75,277.68 H328.75 M326.75,284.25 H328.75" stroke="#3a3a3a" stroke-width="0.55" fill="none"/>
<path d="M335.05,278.45 V285.02 M334.05,278.45 H336.05 M334.05,285.02 H336.05" stroke="#3a3a3a" stroke-width="0.55" fill="none"/>
<path d="M342.35,283.00 V289.56 M341.35,283.00 H343.35 M341.35,289.56 H343.35" stroke="#3a3a3a" stroke-width="0.55" fill="none"/>
<text x="329.10" y="345.00" font-size="5.6" fill="#262626" font-weight="bold" text-anchor="start" textLength="5.8" lengthAdjust="spacingAndGlyphs" stroke="#262626" stroke-width="0.06" >20</text>
<rect x="357.60" y="269.08" width="7.30" height="65.42" fill="#f4903e"/>
<rect x="364.90" y="271.89" width="7.30" height="62.61" fill="#45a9c5"/>
<rect x="372.20" y="269.86" width="7.30" height="64.64" fill="#7f63a5"/>
<rect x="379.50" y="267.06" width="7.30" height="67.44" fill="#b85a12"/>
<path d="M361.25,265.61 V272.56 M360.25,265.61 H362.25 M360.25,272.56 H362.25" stroke="#3a3a3a" stroke-width="0.55" fill="none"/>
<path d="M368.55,268.41 V275.36 M367.55,268.41 H369.55 M367.55,275.36 H369.55" stroke="#3a3a3a" stroke-width="0.55" fill="none"/>
<path d="M375.85,266.38 V273.34 M374.85,266.38 H376.85 M374.85,273.34 H376.85" stroke="#3a3a3a" stroke-width="0.55" fill="none"/>
<path d="M383.15,263.58 V270.53 M382.15,263.58 H384.15 M382.15,270.53 H384.15" stroke="#3a3a3a" stroke-width="0.55" fill="none"/>
<text x="369.90" y="345.00" font-size="5.6" fill="#262626" font-weight="bold" text-anchor="start" textLength="5.8" lengthAdjust="spacingAndGlyphs" stroke="#262626" stroke-width="0.06" >40</text>
<rect x="398.40" y="237.01" width="7.30" height="97.49" fill="#f4903e"/>
<rect x="405.70" y="227.35" width="7.30" height="107.15" fill="#45a9c5"/>
<rect x="413.00" y="238.95" width="7.30" height="95.55" fill="#7f63a5"/>
<rect x="420.30" y="222.14" width="7.30" height="112.36" fill="#b85a12"/>
<path d="M402.05,231.99 V242.04 M401.05,231.99 H403.05 M401.05,242.04 H403.05" stroke="#3a3a3a" stroke-width="0.55" fill="none"/>
<path d="M409.35,222.33 V232.38 M408.35,222.33 H410.35 M408.35,232.38 H410.35" stroke="#3a3a3a" stroke-width="0.55" fill="none"/>
<path d="M416.65,233.92 V243.97 M415.65,233.92 H417.65 M415.65,243.97 H417.65" stroke="#3a3a3a" stroke-width="0.55" fill="none"/>
<path d="M423.95,217.11 V227.16 M422.95,217.11 H424.95 M422.95,227.16 H424.95" stroke="#3a3a3a" stroke-width="0.55" fill="none"/>
<text x="410.70" y="345.00" font-size="5.6" fill="#262626" font-weight="bold" text-anchor="start" textLength="5.8" lengthAdjust="spacingAndGlyphs" stroke="#262626" stroke-width="0.06" >60</text>
<rect x="439.20" y="266.38" width="7.30" height="68.12" fill="#f4903e"/>
<rect x="446.50" y="264.74" width="7.30" height="69.76" fill="#45a9c5"/>
<rect x="453.80" y="271.50" width="7.30" height="63.00" fill="#7f63a5"/>
<rect x="461.10" y="256.62" width="7.30" height="77.88" fill="#b85a12"/>
<path d="M442.85,262.90 V269.86 M441.85,262.90 H443.85 M441.85,269.86 H443.85" stroke="#3a3a3a" stroke-width="0.55" fill="none"/>
<path d="M450.15,261.26 V268.22 M449.15,261.26 H451.15 M449.15,268.22 H451.15" stroke="#3a3a3a" stroke-width="0.55" fill="none"/>
<path d="M457.45,268.02 V274.98 M456.45,268.02 H458.45 M456.45,274.98 H458.45" stroke="#3a3a3a" stroke-width="0.55" fill="none"/>
<path d="M464.75,253.15 V260.10 M463.75,253.15 H465.75 M463.75,260.10 H465.75" stroke="#3a3a3a" stroke-width="0.55" fill="none"/>
<text x="451.50" y="345.00" font-size="5.6" fill="#262626" font-weight="bold" text-anchor="start" textLength="5.8" lengthAdjust="spacingAndGlyphs" stroke="#262626" stroke-width="0.06" >80</text>
<rect x="480.00" y="295.46" width="7.30" height="39.04" fill="#f4903e"/>
<rect x="487.30" y="290.53" width="7.30" height="43.97" fill="#45a9c5"/>
<rect x="494.60" y="294.78" width="7.30" height="39.72" fill="#7f63a5"/>
<rect x="501.90" y="286.18" width="7.30" height="48.32" fill="#b85a12"/>
<path d="M483.65,292.94 V297.97 M482.65,292.94 H484.65 M482.65,297.97 H484.65" stroke="#3a3a3a" stroke-width="0.55" fill="none"/>
<path d="M490.95,288.02 V293.04 M489.95,288.02 H491.95 M489.95,293.04 H491.95" stroke="#3a3a3a" stroke-width="0.55" fill="none"/>
<path d="M498.25,292.27 V297.29 M497.25,292.27 H499.25 M497.25,297.29 H499.25" stroke="#3a3a3a" stroke-width="0.55" fill="none"/>
<path d="M505.55,283.67 V288.69 M504.55,283.67 H506.55 M504.55,288.69 H506.55" stroke="#3a3a3a" stroke-width="0.55" fill="none"/>
<text x="491.00" y="345.00" font-size="5.6" fill="#262626" font-weight="bold" text-anchor="start" textLength="8.4" lengthAdjust="spacingAndGlyphs" stroke="#262626" stroke-width="0.06" >100</text>
<text x="396.60" y="354.60" font-size="6.0" fill="#262626" font-weight="bold" text-anchor="start" textLength="64.5" lengthAdjust="spacingAndGlyphs" stroke="#262626" stroke-width="0.06" >Level of applied voltage (v)</text>
<rect x="486.70" y="210.80" width="2.9" height="3.2" fill="#f4903e"/>
<text x="491.50" y="215.00" font-size="6.5" fill="#262626" font-weight="bold" text-anchor="start" textLength="9.6" lengthAdjust="spacingAndGlyphs" stroke="#262626" stroke-width="0.06" >PUT</text>
<rect x="514.40" y="210.80" width="2.9" height="3.2" fill="#45a9c5"/>
<text x="519.50" y="215.00" font-size="6.5" fill="#262626" font-weight="bold" text-anchor="start" textLength="9.5" lengthAdjust="spacingAndGlyphs" stroke="#262626" stroke-width="0.06" >TYR</text>
<rect x="486.70" y="229.30" width="2.9" height="3.2" fill="#7f63a5"/>
<text x="491.50" y="233.50" font-size="6.5" fill="#262626" font-weight="bold" text-anchor="start" textLength="7.7" lengthAdjust="spacingAndGlyphs" stroke="#262626" stroke-width="0.06" >HIS</text>
<rect x="514.40" y="229.30" width="2.9" height="3.2" fill="#b85a12"/>
<text x="519.50" y="233.50" font-size="6.5" fill="#262626" font-weight="bold" text-anchor="start" textLength="10.2" lengthAdjust="spacingAndGlyphs" stroke="#262626" stroke-width="0.06" >CAD</text>
<text transform="translate(291.7,267.6) rotate(-90)" x="0" y="0" font-size="5.6" font-weight="bold" fill="#303030" text-anchor="middle" textLength="35.5" lengthAdjust="spacingAndGlyphs">Peak area (Au)</text>
</svg>
</body></html>
